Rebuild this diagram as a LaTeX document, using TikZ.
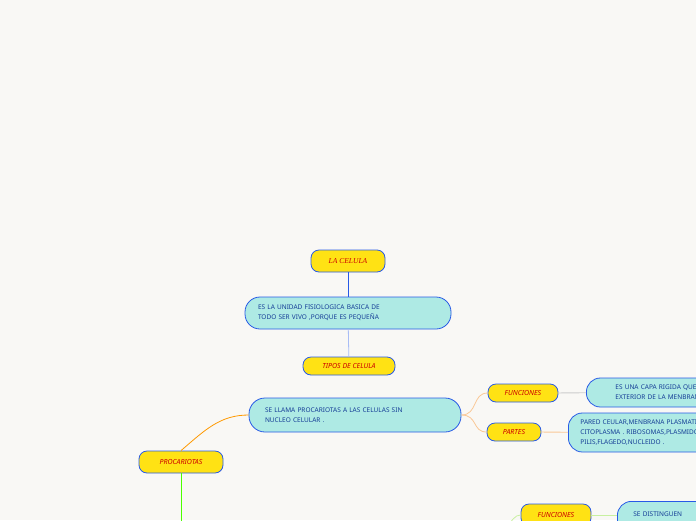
\documentclass[tikz,border=0pt]{standalone}
\usepackage{fontspec}
\setmainfont{Noto Sans}
\newfontfamily\serifit{Liberation Serif}
\definecolor{bg}{RGB}{249,248,245}
\definecolor{yel}{RGB}{255,226,20}
\definecolor{cya}{RGB}{174,234,228}
\definecolor{txb}{RGB}{20,60,150}
\definecolor{bord}{RGB}{40,90,230}
\definecolor{orl}{RGB}{250,200,150}
\definecolor{grl}{RGB}{200,240,160}
\begin{document}
\begin{tikzpicture}[x=1pt,y=-1pt,
  ybox/.style={draw=bord,line width=0.8pt,fill=yel,rounded corners=8pt,
    text=red!80!black,font=\fontsize{7}{8}\selectfont\itshape,inner sep=0pt,align=center},
  cbox/.style={draw=bord,line width=0.8pt,fill=cya,rounded corners=14pt,
    text=txb,font=\fontsize{6.5}{10}\selectfont,inner sep=0pt,align=left},
  orline/.style={draw=orl,line width=0.8pt},
  grline/.style={draw=grl,line width=0.8pt}]
\fill[bg] (0,0) rectangle (696,520);
\clip (0,0) rectangle (696,520);
\useasboundingbox (0,0) rectangle (696,520);
\node[ybox,minimum width=74pt,minimum height=22pt,font=\fontsize{7.5}{8}\selectfont\serifit\itshape] (cel) at (348,261) {LA CELULA};
\node[cbox,text width=180pt,minimum width=206pt,minimum height=32pt,rounded corners=15pt] (def) at (348,313) {ES LA UNIDAD FISIOLOGICA BASICA DE\\TODO SER VIVO ,PORQUE ES PEQUEÑA};
\node[ybox,minimum width=92pt,minimum height=18pt] (tip) at (349,366) {TIPOS DE CELULA};
\node[cbox,text width=180pt,minimum width=212pt,minimum height=34pt,rounded corners=16pt] (pro) at (355,415) {SE LLAMA PROCARIOTAS A LAS CELULAS SIN\\NUCLEO CELULAR .};
\node[ybox,minimum width=84pt,minimum height=22pt] (proc) at (181,462) {PROCARIOTAS};
\node[ybox,minimum width=70pt,minimum height=18pt] (f1) at (523,393) {FUNCIONES};
\node[cbox,text width=200pt,minimum width=230pt,minimum height=29pt,anchor=west] (f1t) at (586,392.5) {\hspace*{14pt}ES UNA CAPA RIGIDA QUE SE ENCUENTRA EN EL\\\hspace*{14pt}EXTERIOR DE LA MENBRANA PLASMATICA};
\node[ybox,minimum width=54pt,minimum height=18pt] (par) at (514,432) {PARTES};
\node[cbox,text width=200pt,minimum width=220pt,minimum height=39pt,anchor=west] (part) at (568,432.5) {\hspace*{2pt}PARED CEULAR,MENBRANA PLASMATICA ,\\\hspace*{2pt}CITOPLASMA . RIBOSOMAS,PLASMIDOS,\\\hspace*{2pt}PILIS,FLAGEDO,NUCLEIDO .};
\node[ybox,minimum width=70pt,minimum height=22pt] (f2) at (556,515) {FUNCIONES};
\node[cbox,text width=150pt,minimum width=170pt,minimum height=36pt,anchor=north west] (f2t) at (617,501) {\hspace*{6pt}SE DISTINGUEN\\\hspace*{6pt}EL CITOPLASMA};
\coordinate (pend) at (181,530);
\coordinate (f2in) at (505,530);
\draw[bord,line width=0.8pt] (cel) -- (def);
\draw[bord!40,line width=0.8pt] (def) -- (tip);
\draw[orange!80!yellow,line width=0.8pt] (pro.west) .. controls (220,415) and (205,430) .. (proc.north);
\draw[green!60!lime,line width=1pt] (proc) -- (pend);
\draw[orline] (pro.east) .. controls (478,415) and (472,393) .. (f1.west);
\draw[orline] (pro.east) .. controls (478,415) and (472,432) .. (par.west);
\draw[draw=gray!40,line width=0.8pt] (f1) -- (f1t);
\draw[orline] (par) -- (part);
\draw[grline] (f2in) .. controls (512,520) and (515,515) .. (f2.west);
\draw[grline] (f2) -- (f2t.west|-f2);
\end{tikzpicture}
\end{document}
